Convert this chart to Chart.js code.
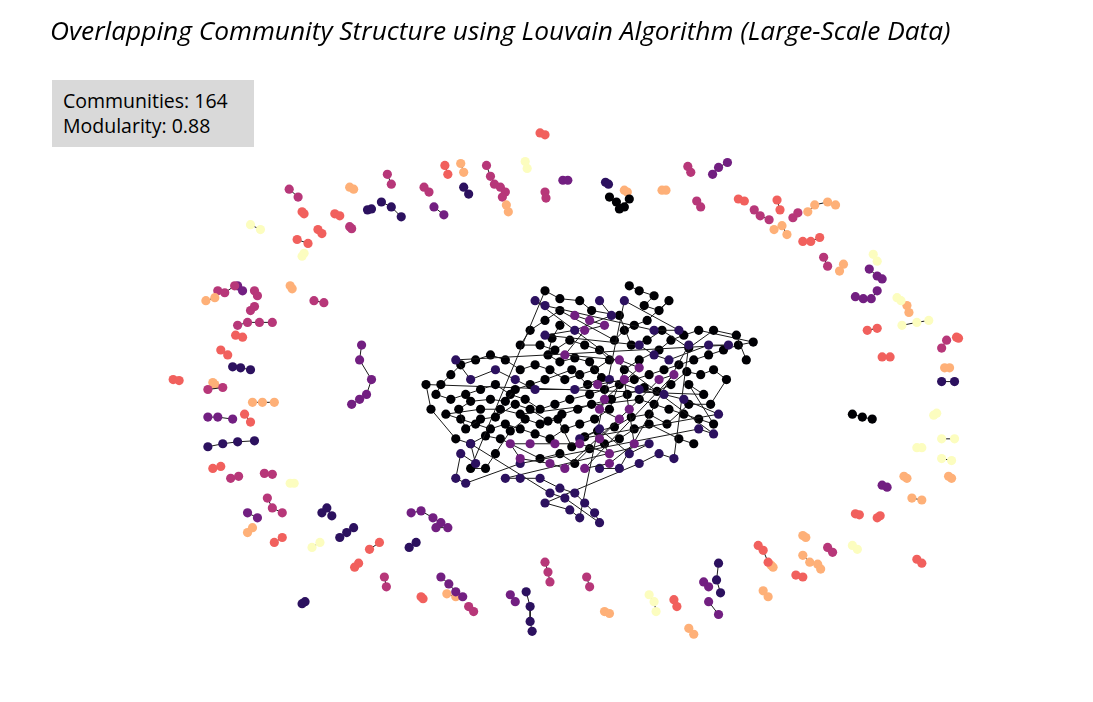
<!DOCTYPE html>
<html><head><meta charset="utf-8">
<script src="https://cdn.jsdelivr.net/npm/chart.js@4/dist/chart.umd.min.js"></script>
<style>
html,body{margin:0;padding:0;background:#fff;overflow:hidden}
#wrap{position:relative;width:1093px;height:702px}
canvas{position:absolute;left:0;top:0}
#title{position:absolute;left:50px;top:12px;font:italic 26.3px "Open Sans",sans-serif;color:#000}
#box{position:absolute;left:52px;top:80px;width:202px;height:67px;background:#d9d9d9;font:19.5px "Open Sans",sans-serif;color:#000;box-sizing:border-box;padding:8px 0 0 11px;line-height:25px;white-space:nowrap}
</style></head><body>
<div id="wrap"><canvas id="c" width="1093" height="702"></canvas>
<div id="title">Overlapping Community Structure using Louvain Algorithm (Large-Scale Data)</div>
<div id="box">Communities: 164<br>Modularity: 0.88</div></div>
<script>
const palette = ["#000004","#2c115f","#721f81","#b73779","#f1605d","#feb078","#fcfdbf"];
// outer communities: [colorIndex, "x,y x,y ..."]
const outerGroups = [
[4,"540,130 545,132"],[4,"444,163 447,172"],[5,"460,161 463,170"],[3,"486,163 490,174 494,182"],
[6,"525,159 527,166"],[2,"563,178 568,178"],[1,"606,180 609,182"],[0,"610,195 617,200 625,205 630,197 620,207"],
[5,"625,188 628,190"],[5,"663,188 667,188"],[3,"689,164 692,170"],[2,"714,172 720,165 729,160"],
[3,"698,199 702,205"],[4,"740,197 746,199"],[3,"756,208 762,214 771,218"],[4,"779,198 782,208"],
[5,"776,228 784,224 789,233"],[3,"795,216 800,211"],[5,"810,210 817,203 830,200 838,203"],[4,"805,240 813,240 822,236"],
[3,"826,256 830,265"],[5,"846,263 842,270"],[6,"876,253 880,260"],[2,"872,268 880,275 885,278"],
[2,"858,296 866,298 874,298 880,290"],[6,"900,297 904,300"],[5,"910,305 912,312"],[6,"905,325 920,322 932,320"],
[4,"870,330 880,328"],[4,"885,357 893,357"],[3,"945,348 950,340"],[5,"948,368 953,368"],[4,"960,337 962,338"],
[1,"945,382 958,382"],[6,"940,414 937,416"],[6,"920,449 925,449"],[6,"945,440 958,440"],[6,"945,460 955,462"],
[5,"907,478 910,480"],[2,"885,487 890,489"],[5,"915,500 925,502"],[5,"952,478 955,480"],[4,"858,516 862,517"],
[4,"880,520 883,518"],[5,"805,538 808,540"],[3,"830,550 835,555"],[6,"855,548 860,552"],[5,"805,558 812,565 820,567 823,572"],
[4,"760,548 765,553 770,565"],[5,"773,568 775,570"],[4,"798,578 805,580"],[4,"920,562 925,566"],[1,"720,566 718,583 722,596"],
[2,"705,585 710,590"],[2,"710,605 720,618"],[5,"765,594 770,600"],[6,"650,598 655,605 657,615"],[5,"690,632 695,638"],
[4,"675,603 678,610"],[5,"605,615 610,617"],[3,"587,580 590,590"],[3,"545,565 548,575 550,585"],
[1,"526,595 530,610 530,625 532,635"],[2,"510,598 515,605"],[3,"468,610 473,615"],[2,"440,580 448,587 455,595 462,600"],
[5,"446,597 455,600"],[4,"420,600 422,602"],[3,"383,580 385,590"],[4,"353,570 357,566"],[4,"368,552 378,545"],
[1,"303,605 300,607"],[1,"408,550 415,545"],[2,"410,515 420,513 432,520 440,525 447,530 435,530"],[6,"310,550 318,545"],
[1,"320,515 325,510 330,518"],[1,"338,540 345,535 352,530"],[4,"272,545 280,540"],[5,"245,535 250,530"],
[2,"245,515 255,520"],[3,"265,500 270,510 280,515"],[6,"288,485 292,485"],[3,"262,475 270,476"],[4,"210,470 218,468"],
[3,"228,480 236,478"],[1,"205,448 220,445 235,443 252,442"],[2,"205,418 215,418 230,420"],[4,"242,415 248,423"],
[5,"250,403 260,403 272,403"],[3,"205,390 220,388"],[1,"230,367 238,368 248,370"],[4,"170,380 176,381"],
[5,"210,383 212,385"],[4,"218,350 225,355"],[4,"233,335 240,337"],[3,"235,325 245,322 257,322 270,322"],
[3,"248,310 252,306"],[5,"203,300 212,297"],[3,"215,290 222,292 232,285"],[2,"235,285 240,290"],[3,"252,290 255,295"],
[5,"288,285 290,288"],[3,"312,300 322,302"],[6,"300,255 302,252"],[4,"295,238 306,242"],[6,"248,223 258,228"],
[3,"287,187 296,195"],[4,"300,210 302,212"],[4,"316,228 320,232"],[4,"333,212 338,214"],[5,"348,185 352,187"],
[3,"348,225 350,227"],[1,"366,208 370,207"],[1,"380,200 390,205 400,215"],[3,"386,172 390,182"],[3,"423,185 428,190"],
[2,"433,205 443,213"],[1,"463,185 468,192"],[5,"506,203 508,210"],[3,"500,185 505,190 502,195"],[3,"545,190 546,196"],
[2,"360,345 358,360 370,380 365,395 358,400 350,405"],[0,"855,415 865,418 875,420"]
];
// central giant component
const coreBlack = "630,285 640,290 655,295 645,305 660,310 670,300 648,320 635,325 625,330 615,340 560,310 545,320 530,330 520,345 540,345 555,350 570,340 585,345 600,350 610,360 595,370 580,375 565,380 550,370 535,365 520,370 505,360 490,355 475,360 460,365 450,375 440,385 435,395 450,400 465,395 480,390 495,385 510,395 525,400 540,410 555,405 570,400 590,395 605,390 620,385 635,380 650,375 665,370 680,365 695,360 710,355 725,350 740,345 755,342 700,330 685,335 672,340 660,350 640,360 625,370 610,410 595,420 580,425 565,430 550,440 535,435 520,430 505,425 490,430 475,425 460,420 445,415 480,410 500,410 520,415 640,400 655,405 670,410 685,415 700,420 715,425 690,385 705,395 425,385 430,410 455,440 470,445 485,437 500,440 540,460 560,455 575,465 590,450 605,445 620,440 635,430 650,425 680,440 695,445";
const coreBlack2 = "560,325 552,338 548,355 560,362 575,358 590,362 602,378 588,385 572,370 545,380 530,385 515,390 505,402 490,400 470,402 458,410 465,430 480,420 495,418 515,405 530,410 548,422 562,415 578,410 592,405 612,400 628,395 645,388 658,392 672,385 688,372 702,375 715,370 728,380 712,405 690,405 668,425 650,415 632,418 615,428 598,432 585,438 572,448 558,420 540,425 525,420 510,432 495,455 485,470 470,470 545,290 560,298 580,300 592,310 620,315 632,345 648,340 663,330 690,348 715,330 738,335 748,360";
const coreDark = "600,300 612,315 575,330 545,335 640,345 655,355 670,360 710,345 730,345 455,360 470,380 495,370 515,380 535,390 575,390 610,380 640,390 665,395 685,400 720,415 580,440 600,430 630,455 650,445 505,480 520,480 540,480 560,490 575,495 585,505 595,515 600,525 565,500 550,495 470,445 475,465 460,455 455,480 465,485 520,465 700,430 715,435 535,300 545,305 655,330 680,330 625,300 580,520 570,512 545,505 640,465 660,455 675,460 690,345 620,470 600,470";
const corePurple = "575,315 590,320 605,325 585,330 565,355 620,360 640,368 605,400 600,410 620,420 600,440 610,455 580,445 555,445 530,445 510,445 520,460 550,465 565,470 630,410 660,380 675,375 585,470 610,465 635,445 625,380 598,385";

const parse = s => s.trim().split(/\s+/).map(p => { const [x,y] = p.split(",").map(Number); return {x,y}; });
const datasets = [];
const edgeStyle = {showLine:true, borderColor:"#1a1a1a", borderWidth:1, pointRadius:4.6, pointHoverRadius:4.6, pointBorderWidth:0};
[[0,coreBlack,3],[0,coreBlack2,2],[1,coreDark,1],[2,corePurple,0]].forEach(([c,s,o]) => {
  datasets.push(Object.assign({data:parse(s), backgroundColor:palette[c], pointBackgroundColor:palette[c], order:o}, edgeStyle));
});
outerGroups.forEach(([c,s]) => {
  datasets.push(Object.assign({data:parse(s), backgroundColor:palette[c], pointBackgroundColor:palette[c]}, edgeStyle));
});
new Chart(document.getElementById("c"), {
  type:"scatter",
  data:{datasets},
  options:{
    responsive:false, animation:false, events:[],
    layout:{padding:0},
    plugins:{legend:{display:false}, tooltip:{enabled:false}},
    scales:{
      x:{type:"linear", min:0, max:1093, display:false},
      y:{type:"linear", min:0, max:702, reverse:true, display:false}
    }
  }
});
</script></body></html>
